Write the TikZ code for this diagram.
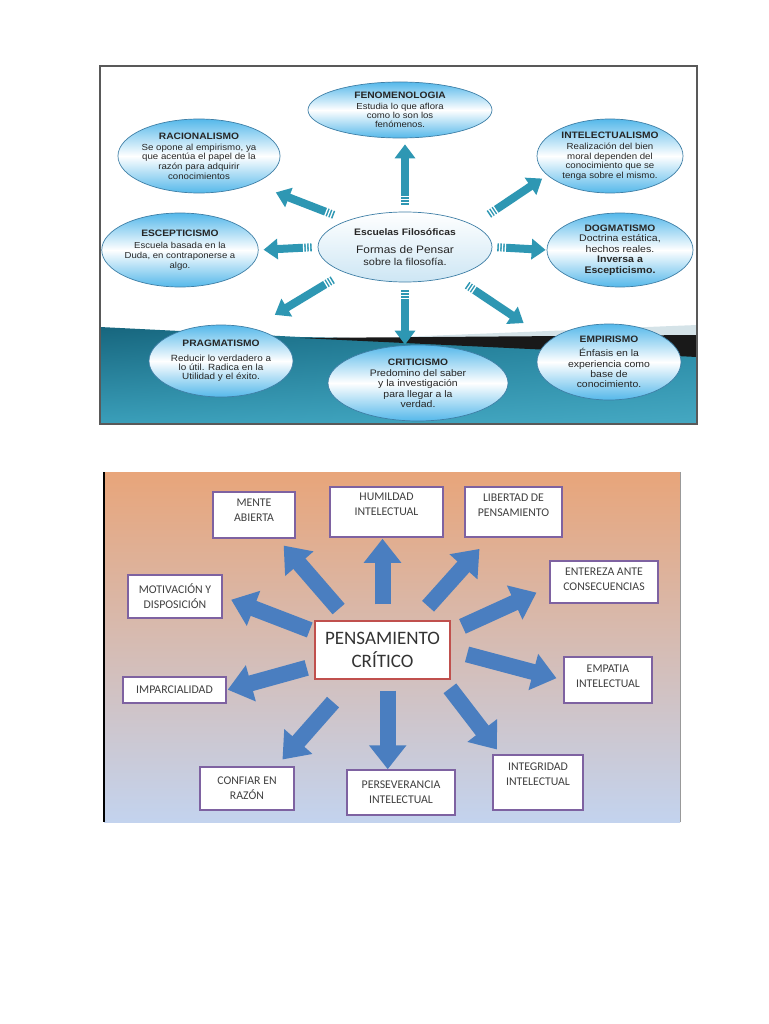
\documentclass[tikz,border=0pt]{standalone}
\usepackage{fontspec}
\setmainfont{Liberation Sans}[FakeStretch=1.1]
\newfontfamily\qualityfont{Carlito}
\usetikzlibrary{shapes.geometric,arrows.meta,shadings}

\definecolor{schoolrim}{HTML}{3F7FA6}
\definecolor{skyrim}{HTML}{55B8EA}
\definecolor{hubblue}{HTML}{CDE6F4}
\definecolor{schoolarrowcol}{HTML}{2E97B3}
\definecolor{bandgray}{HTML}{D5E3E8}
\definecolor{wavetl}{HTML}{17667E}
\definecolor{wavetr}{HTML}{2585A0}
\definecolor{wavebl}{HTML}{3A9FBA}
\definecolor{wavebr}{HTML}{45A8C2}
\definecolor{qualityline}{HTML}{7E62A1}
\definecolor{qualityarrowcol}{HTML}{4A7EC0}
\definecolor{peach}{HTML}{E8A57A}
\definecolor{paleblue}{HTML}{C3D3EE}
\definecolor{critline}{HTML}{C0504D}

\pgfdeclarelayer{bg}
\pgfdeclarelayer{mid}
\pgfsetlayers{bg,mid,main}

\tikzset{
  school/.style={ellipse, draw=schoolrim, line width=0.7pt, top color=skyrim,
    bottom color=skyrim, middle color=white, inner sep=0pt, align=center, text=black!85},
  hub/.style={ellipse, draw=schoolrim, line width=0.7pt, top color=white,
    bottom color=hubblue, inner sep=0pt, align=center, text=black!85},
  schoolarrow/.style={draw=schoolarrowcol, line width=8pt, -{Triangle[width=20pt,length=14pt]},
    postaction={draw=white, line width=9pt, -,
      dash pattern=on 0pt off 1.6pt on 1.3pt off 1.6pt on 1.3pt off 1.6pt on 1.3pt off 900pt}},
  quality/.style={draw=qualityline, line width=1.5pt, fill=white, align=center,
    font=\qualityfont\fontsize{11.8}{15}\selectfont, text=black!75, inner sep=0pt},
  qualityarrow/.style={draw=qualityarrowcol, line width=16pt, -{Triangle[width=36pt,length=24pt]}},
}

\begin{document}
\begin{tikzpicture}[x=1pt,y=-1pt]
  \useasboundingbox (0,0) rectangle (768,1024);

  % escuelas filosoficas
  \node[hub, minimum width=174pt, minimum height=70pt] (ce) at (405,247)
    {{\fontsize{9.4}{11}\selectfont\bfseries Escuelas Filosóficas}\\[6pt]
     \fontsize{10.8}{11.5}\selectfont Formas de Pensar\\ sobre la filosofía.};
  \node[school, minimum width=184pt, minimum height=56pt,
    font=\fontsize{8.7}{9}\selectfont] (fen) at (400,110)
    {{\fontsize{9.3}{9}\selectfont\bfseries FENOMENOLOGIA}\\[2pt]
     Estudia lo que aflora\\ como lo son los\\ fenómenos.};
  \node[school, minimum width=146pt, minimum height=74pt,
    font=\fontsize{8.8}{9.7}\selectfont] (rac) at (199,156)
    {{\fontsize{9.3}{9.7}\selectfont\bfseries RACIONALISMO}\\[1.5pt]
     Se opone al empirismo, ya\\ que acentúa el papel de la\\ razón para adquirir\\ conocimientos};
  \node[school, minimum width=146pt, minimum height=74pt,
    font=\fontsize{8.8}{9.7}\selectfont] (int) at (610,156)
    {{\fontsize{9.3}{9.7}\selectfont\bfseries INTELECTUALISMO}\\[1.5pt]
     Realización del bien\\ moral dependen del\\ conocimiento que se\\ tenga sobre el mismo.};
  \node[school, minimum width=146pt, minimum height=74pt,
    font=\fontsize{8.7}{9.8}\selectfont] (esc) at (180,250)
    {{\fontsize{9.3}{9.8}\selectfont\bfseries ESCEPTICISMO}\\[3pt]
     Escuela basada en la\\ Duda, en contraponerse a\\ algo.};
  \node[school, minimum width=146pt, minimum height=74pt,
    font=\fontsize{9.6}{10.5}\selectfont] (dog) at (620,250)
    {{\fontsize{9.3}{10.5}\selectfont\bfseries DOGMATISMO}\\[0pt]
     Doctrina estática,\\ hechos reales.\\ \bfseries Inversa a\\ \bfseries Escepticismo.};
  \node[school, minimum width=144pt, minimum height=72pt,
    font=\fontsize{9}{9}\selectfont] (prag) at (221,361)
    {{\fontsize{9.3}{9}\selectfont\bfseries PRAGMATISMO}\\[6pt]
     Reducir lo verdadero a\\ lo útil. Radica en la\\ Utilidad y el éxito.};
  \node[school, minimum width=180pt, minimum height=76pt,
    font=\fontsize{9.5}{10.3}\selectfont] (crit) at (418,383)
    {{\fontsize{9.3}{10.3}\selectfont\bfseries CRITICISMO}\\[1pt]
     Predomino del saber\\ y la investigación\\ para llegar a la\\ verdad.};
  \node[school, minimum width=144pt, minimum height=76pt,
    font=\fontsize{9.5}{10.3}\selectfont] (emp) at (609,362)
    {{\fontsize{9.3}{10.3}\selectfont\bfseries EMPIRISMO}\\[4pt]
     Énfasis en la\\ experiencia como\\ base de\\ conocimiento.};

  % pensamiento critico
  \node[quality, draw=critline, line width=1.2pt, minimum width=135pt, minimum height=58pt,
    font=\qualityfont\fontsize{19}{23}\selectfont, text=black!80] (pc) at (382.5,650)
    {PENSAMIENTO\\ CRÍTICO};
  \node[quality, minimum width=82pt, minimum height=46pt, text depth=9pt] (ma) at (254,515)
    {MENTE\\ ABIERTA};
  \node[quality, minimum width=113pt, minimum height=50pt, text depth=15pt] (hum) at (386.5,512)
    {HUMILDAD\\ INTELECTUAL};
  \node[quality, minimum width=97pt, minimum height=50pt, text depth=13pt] (lib) at (513.5,512)
    {LIBERTAD DE\\ PENSAMIENTO};
  \node[quality, minimum width=94pt, minimum height=43pt] (mot) at (175,596.5)
    {MOTIVACIÓN Y\\ DISPOSICIÓN};
  \node[quality, minimum width=108pt, minimum height=42pt, text depth=6pt] (ent) at (604,582)
    {ENTEREZA ANTE\\ CONSECUENCIAS};
  \node[quality, minimum width=103pt, minimum height=26pt] (imp) at (174.5,690)
    {IMPARCIALIDAD};
  \node[quality, minimum width=88pt, minimum height=46pt, text depth=7pt] (empa) at (608,680)
    {EMPATIA\\ INTELECTUAL};
  \node[quality, minimum width=94pt, minimum height=43pt] (conf) at (247,788.5)
    {CONFIAR EN\\ RAZÓN};
  \node[quality, minimum width=108pt, minimum height=45pt] (pers) at (401,792.5)
    {PERSEVERANCIA\\ INTELECTUAL};
  \node[quality, minimum width=90pt, minimum height=55pt, text depth=17pt] (integ) at (538,782.5)
    {INTEGRIDAD\\ INTELECTUAL};

  \begin{pgfonlayer}{mid}
    \draw[schoolarrow, shorten <=7pt, shorten >=6pt] (ce.north) -- (ce.north |- fen.south);
    \draw[schoolarrow, shorten <=15pt, shorten >=24pt] (ce.155) -- (rac.-27);
    \draw[schoolarrow, shorten <=19pt, shorten >=6pt] (ce.18) -- (int.-163);
    \draw[schoolarrow, shorten <=6pt, shorten >=5pt] (ce.west) -- (esc.east);
    \draw[schoolarrow, shorten <=5pt, shorten >=1pt] (ce.east) -- (dog.west);
    \draw[schoolarrow, shorten <=14pt, shorten >=26pt] (ce.-157) -- (prag.46);
    \draw[schoolarrow, shorten <=8pt] (ce.south) -- (ce.south |- crit.north);
    \draw[schoolarrow, shorten <=16pt, shorten >=31pt] (ce.-31) -- (emp.160);

    \draw[qualityarrow, shorten <=15pt, shorten >=9pt] (pc.139) -- (ma.-45);
    \draw[qualityarrow, shorten <=16pt, shorten >=1pt] (pc.north) -- (pc.north |- hum.south);
    \draw[qualityarrow, shorten <=19pt, shorten >=15pt] (pc.42) -- (lib.-133);
    \draw[qualityarrow, shorten <=5pt, shorten >=9pt] (pc.165) -- (mot.east);
    \draw[qualityarrow, shorten <=13pt, shorten >=14pt] (pc.15) -- (ent.-175);
    \draw[qualityarrow, shorten <=8pt, shorten >=1pt] (pc.-167) -- (imp.east);
    \draw[qualityarrow, shorten <=17pt, shorten >=7pt] (pc.east) -- (empa.west);
    \draw[qualityarrow, shorten <=30pt, shorten >=9pt] (pc.-135) -- (conf.37);
    \draw[qualityarrow, shorten <=11pt] (pc.-80) -- (pc.-80 |- pers.north);
    \draw[qualityarrow, shorten <=11pt, shorten >=6pt] (pc.-26) -- (integ.143);
  \end{pgfonlayer}

  \begin{pgfonlayer}{bg}
    \fill[white] (0,0) rectangle (768,1024);
    % wave under the schools
    \shade[upper left=wavetl, upper right=wavetr, lower left=wavebl, lower right=wavebr]
      (100,327) -- (300,337) -- (697,345) -- (697,424) -- (100,424) -- cycle;
    \fill[bandgray] (400,337) -- (697,325) -- (697,337) -- cycle;
    \fill[black!90] (300,338) -- (697,335) -- (697,357) -- cycle;
    % background of the second panel
    \shade[top color=peach, bottom color=paleblue] (104,472) rectangle (680,822);
  \end{pgfonlayer}

  \draw[black!65, line width=1.3pt] (100,66) rectangle (697,424);
  \draw[black, line width=2pt] (104,472) -- (104,822);
  \draw[black!40, line width=0.8pt] (680,472) -- (680,822);
\end{tikzpicture}
\end{document}
